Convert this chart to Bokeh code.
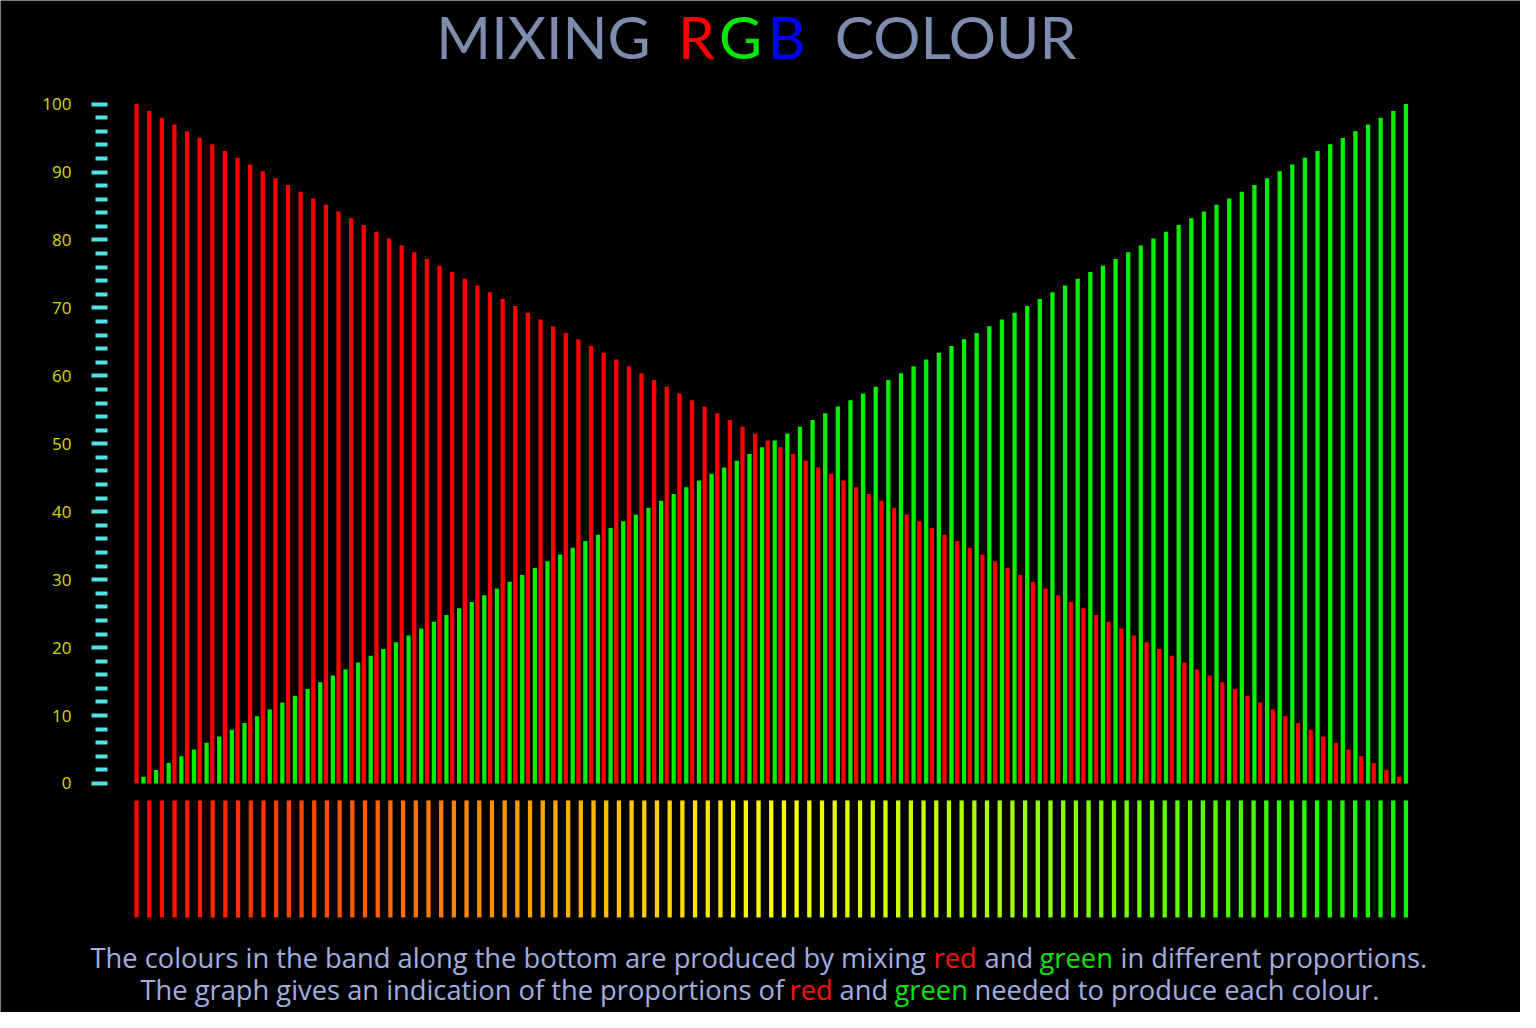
from bokeh.plotting import figure
from bokeh.models import Range1d, FixedTicker, ColumnDataSource, Label
from bokeh.transform import dodge
from bokeh.embed import file_html
from bokeh.resources import INLINE

# ---------------- data ----------------
step = list(range(101))

red = [100.0, 99.0, 98.0, 97.0, 96.0, 95.0, 94.1, 93.1, 92.1, 91.1,
       90.1, 89.1, 88.1, 87.1, 86.1, 85.2, 84.2, 83.2, 82.2, 81.2,
       80.2, 79.2, 78.2, 77.2, 76.2, 75.3, 74.3, 73.3, 72.3, 71.3,
       70.3, 69.3, 68.3, 67.3, 66.3, 65.4, 64.4, 63.4, 62.4, 61.4,
       60.4, 59.4, 58.4, 57.4, 56.4, 55.5, 54.5, 53.5, 52.5, 51.5,
       50.5,
       49.5, 48.5, 47.5, 46.5, 45.6, 44.6, 43.6, 42.6, 41.6, 40.6,
       39.6, 38.6, 37.6, 36.6, 35.7, 34.7, 33.7, 32.7, 31.7, 30.7,
       29.7, 28.7, 27.7, 26.7, 25.8, 24.8, 23.8, 22.8, 21.8, 20.8,
       19.8, 18.8, 17.8, 16.8, 15.9, 14.9, 13.9, 12.9, 11.9, 10.9,
       9.9, 8.9, 7.9, 6.9, 6.0, 5.0, 4.0, 3.0, 2.0, 1.0]

green = [1.0, 2.0, 3.0, 4.0, 5.0, 6.0, 6.9, 7.9, 8.9, 9.9,
         10.9, 11.9, 12.9, 13.9, 14.9, 15.9, 16.8, 17.8, 18.8, 19.8,
         20.8, 21.8, 22.8, 23.8, 24.8, 25.8, 26.7, 27.7, 28.7, 29.7,
         30.7, 31.7, 32.7, 33.7, 34.7, 35.7, 36.6, 37.6, 38.6, 39.6,
         40.6, 41.6, 42.6, 43.6, 44.6, 45.6, 46.5, 47.5, 48.5, 49.5,
         50.5,
         51.5, 52.5, 53.5, 54.5, 55.5, 56.4, 57.4, 58.4, 59.4, 60.4,
         61.4, 62.4, 63.4, 64.4, 65.4, 66.3, 67.3, 68.3, 69.3, 70.3,
         71.3, 72.3, 73.3, 74.3, 75.3, 76.2, 77.2, 78.2, 79.2, 80.2,
         81.2, 82.2, 83.2, 84.2, 85.2, 86.1, 87.1, 88.1, 89.1, 90.1,
         91.1, 92.1, 93.1, 94.1, 95.0, 96.0, 97.0, 98.0, 99.0, 100.0]

y_major_ticks = [0, 10, 20, 30, 40, 50, 60, 70, 80, 90, 100]
y_minor_ticks = [v for v in range(0, 101, 2) if v % 10 != 0]

title_words = ["MIXING", "R", "G", "B", "COLOUR"]
caption_line1 = ["The colours in the band along the bottom are produced by mixing",
                 "red", "and", "green", "in different proportions."]
caption_line2 = ["The graph gives an indication of the proportions of",
                 "red", "and", "green", "needed to produce each colour."]

# ---------------- styles ----------------
BG = "#000000"
RED = "#ff0000"
GREEN = "#00f000"
TITLE_GREY = "#7d8caf"
CAPTION_BLUE = "#a0afe0"
CAP_RED = "#ff1010"
CAP_GREEN = "#10e010"
TICK_CYAN = "#50e4e8"
LABEL_YELLOW = "#d8d800"
W, H = 1520, 1012

p = figure(width=W, height=H,
           x_range=Range1d(-11.05, 109.35), y_range=Range1d(-33.71, 115.25),
           output_backend="svg", toolbar_location=None,
           x_axis_location=None,
           background_fill_color=BG, border_fill_color=BG,
           outline_line_color=None,
           min_border_left=0, min_border_right=0,
           min_border_top=0, min_border_bottom=0)
p.grid.visible = False
# pixel-like ranges used only to place the title and caption texts
p.extra_x_ranges = {"px": Range1d(0, W)}
p.extra_y_ranges = {"px": Range1d(H, 0)}

src = ColumnDataSource(dict(step=step, red=red, green=green))
p.vbar(x=dodge("step", -0.275, range=p.x_range), top="red", bottom=0, width=0.34,
       fill_color=RED, line_color=None, source=src)
p.vbar(x=dodge("step", 0.275, range=p.x_range), top="green", bottom=0, width=0.34,
       fill_color=GREEN, line_color=None, source=src)

# colour band: mix of red and green in the proportions given by the data
band_colors = []
for r, g in zip(red, green):
    frac = g / (r + g)
    R = int(round(min(255, 510 * (1 - frac))))
    G = int(round(min(255, 510 * frac)))
    band_colors.append("#%02x%02x00" % (R, G))
band_x = [s * 1.0055 - 0.275 for s in step]
bsrc = ColumnDataSource(dict(x=band_x, color=band_colors))
p.vbar(x="x", top=-2.5, bottom=-19.72, width=0.34, fill_color="color",
       line_color=None, source=bsrc)

ax = p.yaxis[0]
ax.fixed_location = -2.574
ax.ticker = FixedTicker(ticks=y_major_ticks, minor_ticks=y_minor_ticks)
ax.axis_line_color = None
ax.major_tick_line_color = TICK_CYAN
ax.major_tick_line_width = 4
ax.major_tick_out = 16
ax.major_tick_in = 0
ax.minor_tick_line_color = TICK_CYAN
ax.minor_tick_line_width = 4
ax.minor_tick_out = 12
ax.minor_tick_in = 0
ax.major_label_text_color = LABEL_YELLOW
ax.major_label_text_font = "Open Sans"
ax.major_label_text_font_size = "17px"
ax.major_label_standoff = 20

# ---------------- title ----------------
title_x = [543, 696, 740, 786, 955]
title_col = [TITLE_GREY, RED, "#00e600", "#0000ff", TITLE_GREY]
for t, x, c in zip(title_words, title_x, title_col):
    p.add_layout(Label(x=x, y=36, text=t, text_color=c, text_font="Lato",
                       text_font_size="59px", text_baseline="middle",
                       text_align="center", x_range_name="px", y_range_name="px"))

# ---------------- caption ----------------
cap_x = [90, 933, 984, 1039, 1120, 140, 789, 839, 894, 974]
cap_y = [957] * 5 + [989] * 5
cap_col = [CAPTION_BLUE, CAP_RED, CAPTION_BLUE, CAP_GREEN, CAPTION_BLUE] * 2
for t, x, y, c in zip(caption_line1 + caption_line2, cap_x, cap_y, cap_col):
    p.add_layout(Label(x=x, y=y, text=t, text_color=c, text_font="Open Sans",
                       text_font_size="27.3px", text_baseline="middle",
                       text_align="left", x_range_name="px", y_range_name="px"))

html = file_html(p, INLINE, title="Mixing RGB colour")
html = html.replace("<body>", '<body style="background-color:#000000;">', 1)
open("out.html", "w").write(html)
